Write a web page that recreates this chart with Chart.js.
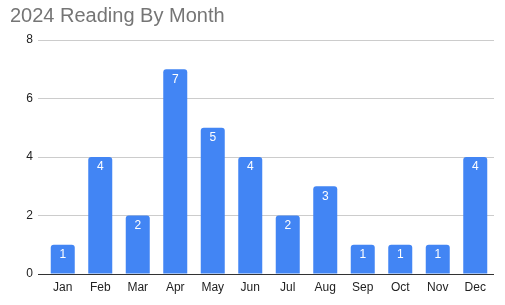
<!DOCTYPE html>
<html>
<head>
<meta charset="utf-8">
<script src="https://cdn.jsdelivr.net/npm/chart.js@4.4.1/dist/chart.umd.min.js"></script>
<style>
  body { margin: 0; background: #fff; }
  #chart { display: block; }
</style>
</head>
<body>
<canvas id="chart" width="505" height="305"></canvas>
<script>
const months = ['Jan', 'Feb', 'Mar', 'Apr', 'May', 'Jun', 'Jul', 'Aug', 'Sep', 'Oct', 'Nov', 'Dec'];
const booksRead = [1, 4, 2, 7, 5, 4, 2, 3, 1, 1, 1, 4];
const chartTitle = '2024 Reading By Month';

// title drawn at the top left, like the sheets chart
const titlePlugin = {
    id: 'titleText',
    afterDraw(chart) {
        const ctx = chart.ctx;
        ctx.save();
        ctx.font = '20px "Liberation Sans", Arial, sans-serif';
        ctx.fillStyle = '#757575';
        ctx.textAlign = 'left';
        ctx.textBaseline = 'alphabetic';
        ctx.fillText(chartTitle, 10, 22);
        ctx.restore();
    }
};

// white value labels inside the top of each bar
const valueLabels = {
    id: 'valueLabels',
    afterDatasetsDraw(chart) {
        const ctx = chart.ctx;
        const meta = chart.getDatasetMeta(0);
        ctx.save();
        ctx.font = '12px "Liberation Sans", Arial, sans-serif';
        ctx.fillStyle = '#ffffff';
        ctx.textAlign = 'center';
        ctx.textBaseline = 'top';
        meta.data.forEach((bar, i) => {
            ctx.fillText(String(booksRead[i]), bar.x, bar.y + 4);
        });
        ctx.restore();
    }
};

new Chart(document.getElementById('chart'), {
    type: 'bar',
    data: {
        labels: months,
        datasets: [{
            data: booksRead,
            backgroundColor: '#4285F4',
            borderRadius: 3,
            categoryPercentage: 1,
            barPercentage: 0.64
        }]
    },
    options: {
        responsive: false,
        animation: false,
        layout: {
            padding: { top: 40, right: 11, bottom: 0, left: 0 }
        },
        plugins: {
            legend: { display: false },
            tooltip: { enabled: false },
            title: { display: false }
        },
        scales: {
            x: {
                grid: { display: false, drawTicks: false },
                border: { display: false },
                ticks: {
                    color: '#222',
                    padding: 6,
                    font: { size: 12, family: '"Liberation Sans", Arial, sans-serif' }
                },
                afterFit(scale) { scale.height = 31; }
            },
            y: {
                min: 0,
                max: 8,
                grid: {
                    drawTicks: true,
                    tickLength: 6,
                    color: c => c.tick.value === 0 ? '#333333' : '#cccccc'
                },
                border: { display: false },
                ticks: {
                    stepSize: 2,
                    color: '#222',
                    padding: 5,
                    font: { size: 12, family: '"Liberation Sans", Arial, sans-serif' }
                },
                afterFit(scale) { scale.width = 44; }
            }
        }
    },
    plugins: [titlePlugin, valueLabels]
});
</script>
</body>
</html>
